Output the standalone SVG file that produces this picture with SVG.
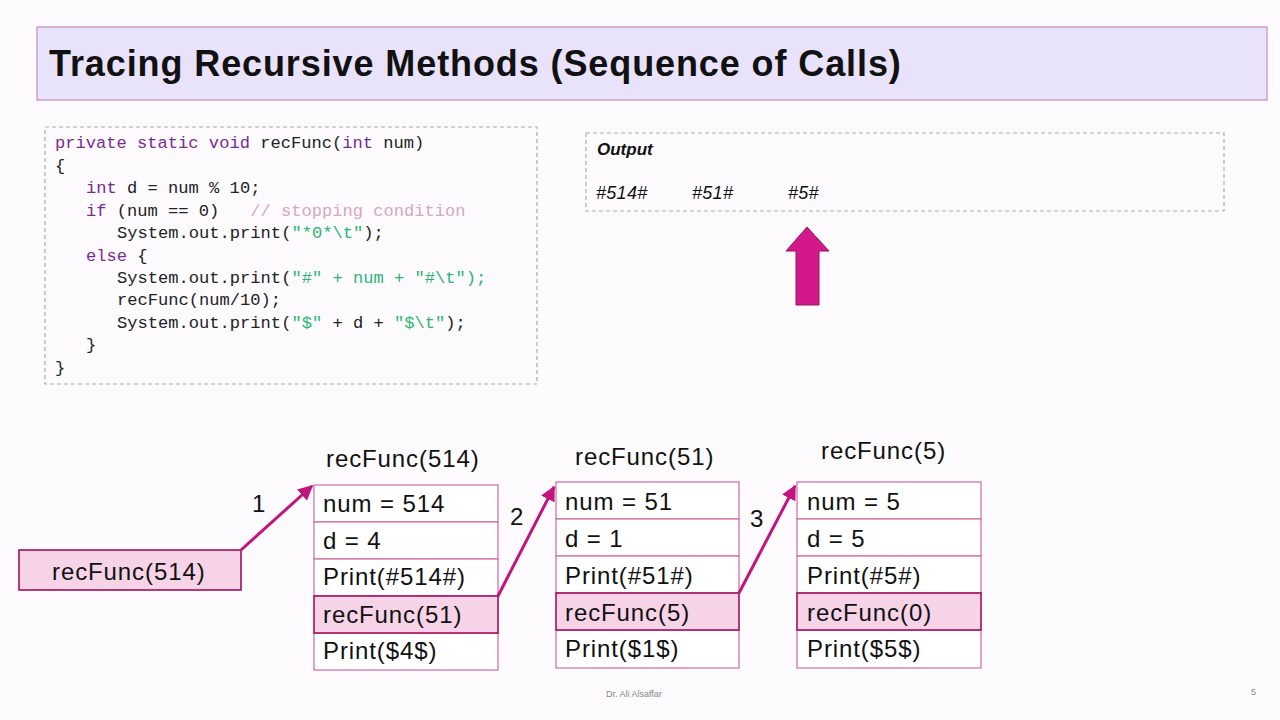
<svg xmlns="http://www.w3.org/2000/svg" width="1280" height="720" viewBox="0 0 1280 720">
<defs>
<style>
.code{font-family:"Liberation Mono","DejaVu Sans Mono",monospace;font-size:17.1px;fill:#222}
.kw{fill:#7a2a94}.str{fill:#2bb673}.cm{fill:#d9a6c0}
.t{font-family:"Liberation Sans",Arial,sans-serif;font-size:24px;letter-spacing:0.9px;fill:#111}
.cell{fill:#fff;stroke:#d06aa0;stroke-width:1.2}
.hl{fill:#f6d3e6;stroke:#a0105f;stroke-width:1.6}
.dash{fill:none;stroke:#aaa;stroke-width:1.2;stroke-dasharray:4 3}
</style>
<marker id="ah" viewBox="0 0 10 10" refX="9" refY="5" markerWidth="5" markerHeight="5" orient="auto"><path d="M0,0 L10,5 L0,10 z" fill="#c0157f"/></marker>
</defs>
<rect width="1280" height="720" fill="#fdfbfe"/>
<g id="title">
<rect x="37" y="27" width="1230" height="73" fill="#e9e2fb" stroke="#c98ac0" stroke-width="1.2"/>
<text x="49" y="76" font-family="Liberation Sans,Arial,sans-serif" font-weight="bold" font-size="36" letter-spacing="0.9" fill="#111">Tracing Recursive Methods (Sequence of Calls)</text>
</g>
<g id="code">
<rect x="45" y="127" width="492" height="257" class="dash"/>
<text class="code" xml:space="preserve">
<tspan x="55" y="148"><tspan class="kw">private static void</tspan> recFunc(<tspan class="kw">int</tspan> num)</tspan>
<tspan x="55" y="171">{</tspan>
<tspan x="86" y="193"><tspan class="kw">int</tspan> d = num % 10;</tspan>
<tspan x="86" y="216"><tspan class="kw">if</tspan> (num == 0)   <tspan class="cm">// stopping condition</tspan></tspan>
<tspan x="117" y="238">System.out.print(<tspan class="str">"*0*\t"</tspan>);</tspan>
<tspan x="86" y="261"><tspan class="kw">else</tspan> {</tspan>
<tspan x="117" y="283">System.out.print(<tspan class="str">"#" + num + "#\t");</tspan></tspan>
<tspan x="117" y="305">recFunc(num/10);</tspan>
<tspan x="117" y="328">System.out.print(<tspan class="str">"$"</tspan> + d + <tspan class="str">"$\t"</tspan>);</tspan>
<tspan x="86" y="350">}</tspan>
<tspan x="55" y="373">}</tspan>
</text>
</g>
<g id="output">
<rect x="586" y="133" width="638" height="78" class="dash"/>
<text x="597" y="155" font-family="Liberation Sans,Arial,sans-serif" font-weight="bold" font-style="italic" font-size="17" fill="#111">Output</text>
<text y="199" font-family="Liberation Sans,Arial,sans-serif" font-style="italic" font-size="18" letter-spacing="0.3" fill="#111"><tspan x="596">#514#</tspan><tspan x="692">#51#</tspan><tspan x="788">#5#</tspan></text>
</g>
<g id="bigarrow">
<path d="M807,227 L829,251 L819,251 L819,305 L796,305 L796,251 L786,251 Z" fill="#d4178a" stroke="#8a1a5a" stroke-width="1"/>
</g>
<g id="call">
<rect x="19" y="550" width="222" height="40" class="hl"/>
<text x="52" y="580" class="t">recFunc(514)</text>
</g>
<g id="frame1">
<text x="326" y="467" class="t">recFunc(514)</text>
<rect x="314" y="485" width="184" height="37" class="cell"/>
<rect x="314" y="522" width="184" height="37" class="cell"/>
<rect x="314" y="559" width="184" height="37" class="cell"/>
<rect x="314" y="633" width="184" height="37" class="cell"/>
<rect x="314" y="596" width="184" height="37" class="hl"/>
<text class="t"><tspan x="323" y="512">num = 514</tspan><tspan x="323" y="549">d = 4</tspan><tspan x="323" y="585">Print(#514#)</tspan><tspan x="323" y="623">recFunc(51)</tspan><tspan x="323" y="659">Print($4$)</tspan></text>
</g>
<g id="frame2">
<text x="575" y="465" class="t">recFunc(51)</text>
<rect x="556" y="482" width="183" height="37" class="cell"/>
<rect x="556" y="519" width="183" height="37" class="cell"/>
<rect x="556" y="556" width="183" height="37" class="cell"/>
<rect x="556" y="630" width="183" height="38" class="cell"/>
<rect x="556" y="593" width="183" height="37" class="hl"/>
<text class="t"><tspan x="565" y="510">num = 51</tspan><tspan x="565" y="547">d = 1</tspan><tspan x="565" y="584">Print(#51#)</tspan><tspan x="565" y="621">recFunc(5)</tspan><tspan x="565" y="657">Print($1$)</tspan></text>
</g>
<g id="frame3">
<text x="821" y="459" class="t">recFunc(5)</text>
<rect x="797" y="482" width="184" height="37" class="cell"/>
<rect x="797" y="519" width="184" height="37" class="cell"/>
<rect x="797" y="556" width="184" height="37" class="cell"/>
<rect x="797" y="630" width="184" height="38" class="cell"/>
<rect x="797" y="593" width="184" height="37" class="hl"/>
<text class="t"><tspan x="807" y="510">num = 5</tspan><tspan x="807" y="547">d = 5</tspan><tspan x="807" y="584">Print(#5#)</tspan><tspan x="807" y="621">recFunc(0)</tspan><tspan x="807" y="657">Print($5$)</tspan></text>
</g>
<g id="connectors" stroke="#c0157f" stroke-width="3" fill="none" marker-end="url(#ah)">
<line x1="241" y1="550" x2="312" y2="486"/>
<line x1="498" y1="596" x2="554" y2="487"/>
<line x1="739" y1="593" x2="795" y2="486"/>
</g>
<g id="labels">
<text x="252" y="512" class="t">1</text>
<text x="510" y="525" class="t">2</text>
<text x="750" y="527" class="t">3</text>
</g>
<text x="606" y="697" font-family="Liberation Sans,Arial,sans-serif" font-size="9" fill="#888">Dr. Ali Alsaffar</text>
<text x="1251" y="695" font-family="Liberation Sans,Arial,sans-serif" font-size="9" fill="#888">5</text>
</svg>
